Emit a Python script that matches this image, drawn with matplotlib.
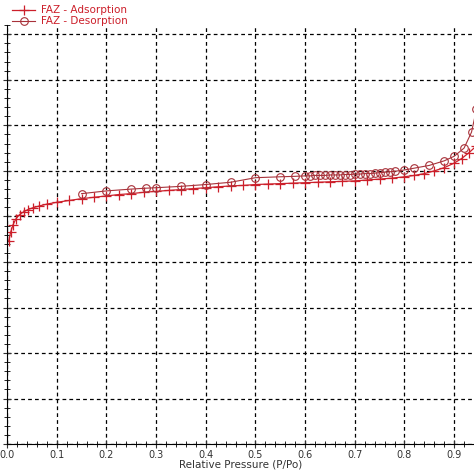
import matplotlib
matplotlib.use("Agg")
import matplotlib.pyplot as plt
from matplotlib.ticker import MultipleLocator, NullFormatter

ads_x = [0.003, 0.007, 0.012, 0.018, 0.025, 0.033, 0.042, 0.052, 0.065, 0.08, 0.1, 0.125, 0.15, 0.175, 0.2, 0.225, 0.25, 0.275, 0.3, 0.325, 0.35, 0.375, 0.4, 0.425, 0.45, 0.475, 0.5, 0.525, 0.55, 0.575, 0.6, 0.625, 0.65, 0.675, 0.7, 0.725, 0.75, 0.775, 0.8, 0.82, 0.84, 0.86, 0.88, 0.9, 0.915, 0.93, 0.945]
ads_y = [4.45, 4.65, 4.82, 4.95, 5.04, 5.1, 5.15, 5.19, 5.23, 5.27, 5.31, 5.35, 5.39, 5.42, 5.45, 5.48, 5.5, 5.53, 5.55, 5.57, 5.59, 5.61, 5.63, 5.65, 5.67, 5.68, 5.7, 5.71, 5.72, 5.73, 5.74, 5.75, 5.76, 5.77, 5.78, 5.8, 5.82, 5.84, 5.87, 5.9, 5.94, 6.0, 6.07, 6.17, 6.27, 6.4, 6.55]
des_x = [0.15, 0.2, 0.25, 0.28, 0.3, 0.35, 0.4, 0.45, 0.5, 0.55, 0.58, 0.6, 0.61, 0.62, 0.63, 0.64, 0.65, 0.66, 0.67, 0.68, 0.69, 0.7, 0.71, 0.72, 0.73, 0.74, 0.75, 0.76, 0.77, 0.78, 0.8, 0.82, 0.85, 0.88, 0.9, 0.92, 0.935, 0.945]
des_y = [5.5, 5.56, 5.6, 5.62, 5.63, 5.66, 5.7, 5.75, 5.85, 5.87, 5.88, 5.89, 5.89, 5.9, 5.9, 5.9, 5.91, 5.91, 5.91, 5.92, 5.92, 5.93, 5.93, 5.94, 5.94, 5.95, 5.96, 5.97, 5.98, 5.99, 6.02, 6.06, 6.12, 6.22, 6.32, 6.5, 6.85, 7.35]

red = "#cc1f2a"
dred = "#a8323a"
fig = plt.figure(figsize=(4.74, 4.74), dpi=100)
ax = fig.add_axes([0.015, 0.063, 0.985, 0.884])
ax.plot(ads_x, ads_y, color=red, lw=0.9, marker="+", ms=7, mew=0.9, label="FAZ - Adsorption")
ax.plot(des_x, des_y, color=dred, lw=0.8, marker="o", ms=5.5, mfc="none", mew=0.8, label="FAZ - Desorption")
ax.set_xlim(0, 0.94)
ax.set_ylim(0, 9.2)
ax.xaxis.set_major_locator(MultipleLocator(0.1))
ax.xaxis.set_minor_locator(MultipleLocator(0.02))
ax.yaxis.set_major_locator(MultipleLocator(1))
ax.yaxis.set_minor_locator(MultipleLocator(0.2))
ax.yaxis.set_major_formatter(NullFormatter())
ax.set_xticklabels([f"{v:.1f}" for v in ax.get_xticks()])
ax.grid(True, which="major", color="black", ls=(0, (3, 2.5)), lw=0.9)
ax.tick_params(axis="both", which="major", direction="inout", length=6, labelsize=7, colors="#333333", pad=1)
ax.tick_params(axis="both", which="minor", direction="inout", length=4)
for s in ["top", "right"]:
    ax.spines[s].set_visible(False)
ax.set_xlabel("Relative Pressure (P/Po)", fontsize=7.5, color="#333333", labelpad=0)
leg = ax.legend(loc="lower left", bbox_to_anchor=(0.0, 0.985), frameon=False, fontsize=7.5,
                handlelength=2.2, borderpad=0, labelspacing=0.1, handletextpad=0.6)
for t in leg.get_texts():
    t.set_color(red)
fig.savefig("out.png", dpi=100)
